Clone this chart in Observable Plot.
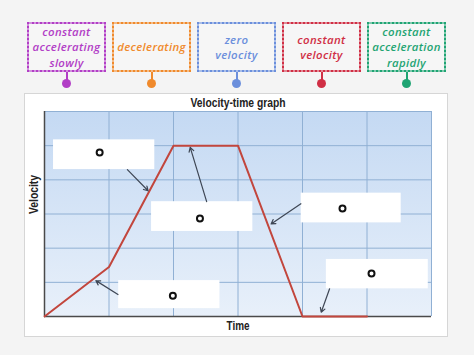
<!DOCTYPE html>
<html>
<head>
<meta charset="utf-8">
<script src="https://cdn.jsdelivr.net/npm/d3@7"></script>
<script src="https://cdn.jsdelivr.net/npm/@observablehq/plot@0.6"></script>
<style>
  html, body { margin: 0; padding: 0; background: #f4f4f4; }
  #wrap { position: relative; width: 474px; height: 355px; overflow: hidden; }
  #panel { position: absolute; left: 24px; top: 93px; width: 424px; height: 244px; background: #fff; border: 1px solid #d6d6d6; box-sizing: border-box; }
  .lab { position: absolute; top: 22px; width: 79px; height: 50px; box-sizing: border-box; border: 2px solid; outline: 2px dotted; outline-offset: -2px; display: flex; align-items: center; justify-content: center; text-align: center; font-family: "Open Sans", sans-serif; font-style: italic; font-weight: 600; font-size: 11.4px; line-height: 15.5px; letter-spacing: 0.35px; background: #f6f6f6; }
  .stem { position: absolute; top: 72px; width: 2px; height: 9px; }
  .dot { position: absolute; top: 79px; width: 9px; height: 9px; border-radius: 50%; }
  #chart { position: absolute; left: 0; top: 0; }
</style>
</head>
<body>
<div id="wrap">
  <div id="panel"></div>
  <div id="labels"></div>
  <div id="chart"></div>
</div>
<script>
// Top answer labels
const labelTexts = [["constant", "accelerating", "slowly"], ["decelerating"], ["zero", "velocity"], ["constant", "velocity"], ["constant", "acceleration", "rapidly"]];
const labelColors = ["#b23ec6", "#f08a2c", "#6b8fdc", "#d02f45", "#1fa473"];
const labelFaint = ["rgba(178,62,198,0.55)", "rgba(240,138,44,0.55)", "rgba(107,143,220,0.55)", "rgba(208,47,69,0.55)", "rgba(31,164,115,0.55)"];

// Velocity-time line (time units, velocity units)
const times = [0, 1, 2, 3, 4, 5];
const velocities = [0, 1.45, 5, 5, 0, 0];

// Grid
const gridValues = [1, 2, 3, 4, 5, 6];

// Blank answer boxes (data units)
const boxX1 = [0.14, 1.66, 3.98, 4.37, 1.15];
const boxX2 = [1.71, 3.23, 5.53, 5.95, 2.72];
const boxY1 = [4.30, 2.49, 2.74, 0.81, 0.23];
const boxY2 = [5.17, 3.36, 3.61, 1.67, 1.05];
const circleX = [0.855, 2.41, 4.62, 5.07, 1.99];
const circleY = [4.80, 2.87, 3.16, 1.26, 0.61];

// Pointer arrows (data units)
const arrowX1 = [1.285, 2.514, 3.975, 4.42, 1.139];
const arrowY1 = [4.30, 3.36, 3.30, 0.81, 0.643];
const arrowX2 = [1.606, 2.259, 3.513, 4.29, 0.797];
const arrowY2 = [3.68, 4.95, 2.71, 0.126, 1.05];

// Chart texts
const chartTitle = "Velocity-time graph";
const yLabel = "Velocity";
const xLabel = "Time";

// Build labels
const labelsDiv = document.getElementById("labels");
labelTexts.forEach((lines, i) => {
  const left = 27 + i * 85;
  const box = document.createElement("div");
  box.className = "lab";
  box.style.left = left + "px";
  box.style.borderColor = labelFaint[i];
  box.style.outlineColor = labelColors[i];
  box.style.color = labelColors[i];
  box.innerHTML = lines.join("<br>");
  labelsDiv.appendChild(box);
  const stem = document.createElement("div");
  stem.className = "stem";
  stem.style.left = (left + 39) + "px";
  stem.style.background = labelColors[i];
  labelsDiv.appendChild(stem);
  const dot = document.createElement("div");
  dot.className = "dot";
  dot.style.left = (left + 35) + "px";
  dot.style.background = labelColors[i];
  labelsDiv.appendChild(dot);
});

const linePts = times.map((t, i) => ({t, v: velocities[i]}));
const boxes = boxX1.map((_, i) => ({x1: boxX1[i], x2: boxX2[i], y1: boxY1[i], y2: boxY2[i], cx: circleX[i], cy: circleY[i]}));
const arrows = arrowX1.map((_, i) => ({x1: arrowX1[i], y1: arrowY1[i], x2: arrowX2[i], y2: arrowY2[i]}));

const defs = () => {
  const d = d3.create("svg:defs");
  const g = d.append("linearGradient").attr("id", "bgGrad").attr("x1", 0).attr("y1", 0).attr("x2", 0).attr("y2", 1);
  g.append("stop").attr("offset", "0%").attr("stop-color", "#c4d9f3");
  g.append("stop").attr("offset", "100%").attr("stop-color", "#e8f0fa");
  return d.node();
};

const labelFont = "'Liberation Sans', Arial, sans-serif";

const chart = Plot.plot({
  width: 474,
  height: 355,
  marginLeft: 44,
  marginRight: 43,
  marginTop: 111,
  marginBottom: 39,
  x: {domain: [0, 6], axis: null},
  y: {domain: [0, 6], axis: null},
  style: {background: "transparent", overflow: "visible"},
  marks: [
    defs,
    Plot.frame({fill: "url(#bgGrad)", stroke: null}),
    Plot.ruleX(gridValues, {stroke: "#90b0d4", strokeWidth: 1}),
    Plot.ruleY(gridValues, {stroke: "#90b0d4", strokeWidth: 1}),
    Plot.ruleX([0], {stroke: "#4a4a4a", strokeWidth: 1.5}),
    Plot.ruleY([0], {stroke: "#4a4a4a", strokeWidth: 1.5}),
    Plot.line(linePts, {x: "t", y: "v", stroke: "#c2463d", strokeWidth: 2}),
    Plot.rect(boxes, {x1: "x1", x2: "x2", y1: "y1", y2: "y2", fill: "white"}),
    Plot.dot(boxes, {x: "cx", y: "cy", r: 3, stroke: "#111", strokeWidth: 2, fill: "white"}),
    Plot.arrow(arrows, {x1: "x1", y1: "y1", x2: "x2", y2: "y2", stroke: "#3e4654", strokeWidth: 1.2, headLength: 6}),
    Plot.text([chartTitle], {frameAnchor: "top", lineAnchor: "middle", dy: -9, fontWeight: "bold", fontSize: 13.5, fontFamily: labelFont, fill: "#222", className: "condTitle"}),
    Plot.text([yLabel], {frameAnchor: "left", lineAnchor: "middle", dx: -11, rotate: -90, fontWeight: "bold", fontSize: 13, fontFamily: labelFont, fill: "#222", className: "condY"}),
    Plot.text([xLabel], {frameAnchor: "bottom", lineAnchor: "middle", dy: 9, fontWeight: "bold", fontSize: 13.5, fontFamily: labelFont, fill: "#222", className: "condX"})
  ]
});
// Condense the chart texts like the narrow font of the original
const squeeze = {condTitle: 95, condY: 39, condX: 23};
for (const [cls, len] of Object.entries(squeeze)) {
  d3.select(chart).selectAll(`.${cls} text`).attr("textLength", len).attr("lengthAdjust", "spacingAndGlyphs");
}
document.getElementById("chart").appendChild(chart);
</script>
</body>
</html>
